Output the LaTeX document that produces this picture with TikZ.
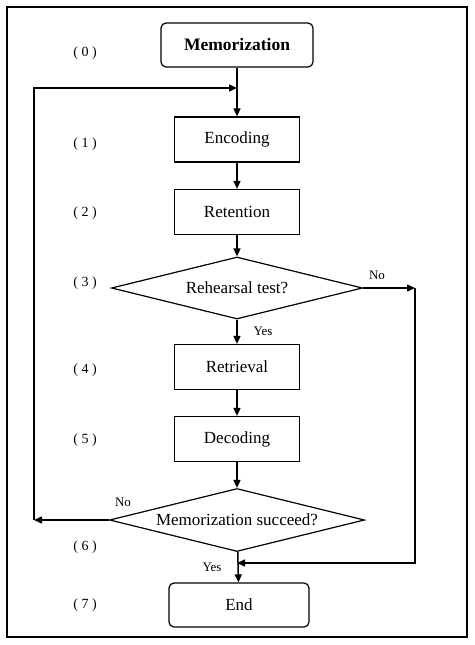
\documentclass[tikz,border=0pt]{standalone}
\usepackage{fontspec}
\setmainfont{Liberation Serif}
\usepackage{tikz}
\usetikzlibrary{shapes.geometric, arrows.meta, positioning, calc}
\tikzstyle{startstop} = [rectangle, rounded corners=5pt, minimum width=152pt, minimum height=44pt, text centered, draw=black, line width=1.2pt, font=\fontsize{17}{20}\selectfont]
\tikzstyle{process} = [rectangle, minimum width=125pt, minimum height=45pt, text centered, draw=black, line width=1.2pt, font=\fontsize{17}{20}\selectfont]
\tikzstyle{decision} = [diamond, aspect=4, inner sep=0pt, text centered, draw=black, line width=1.2pt, font=\fontsize{17}{20}\selectfont]
\tikzstyle{steplabel} = [font=\fontsize{14}{16}\selectfont]
\tikzstyle{answer} = [font=\fontsize{13}{15}\selectfont]
\tikzstyle{arrow} = [line width=1.5pt, -{Triangle[length=8pt, width=7pt]}]

\begin{document}
\begin{tikzpicture}[x=1pt, y=-1pt]
    \useasboundingbox (0,0) rectangle (474,645);
    % Frame
    \draw[line width=2pt] (7,7) rectangle (467,637);

    % Steps
    \node[startstop, font=\fontsize{17.5}{20}\selectfont\bfseries] (mem) at (237,45) {Memorization};
    \node[process] (enc) at (237,139.5) {Encoding};
    \node[process] (ret) at (237,212) {Retention};
    \node[decision, minimum width=251pt, minimum height=62pt] (reh) at (237,288) {Rehearsal test?};
    \node[process] (retr) at (237,367) {Retrieval};
    \node[process] (dec) at (237,439) {Decoding};
    \node[decision, minimum width=255pt, minimum height=63pt] (suc) at (237,520) {Memorization succeed?};
    \node[startstop, minimum width=140pt] (end) at (239,605) {End};

    % Step numbers
    \node[steplabel] (s0) at (85,53) {( 0 )};
    \node[steplabel] (s1) at (85,144) {( 1 )};
    \node[steplabel] (s2) at (85,213) {( 2 )};
    \node[steplabel] (s3) at (85,283) {( 3 )};
    \node[steplabel] (s4) at (85,370) {( 4 )};
    \node[steplabel] (s5) at (85,440) {( 5 )};
    \node[steplabel] (s6) at (85,547) {( 6 )};
    \node[steplabel] (s7) at (85,605) {( 7 )};

    % Junctions
    \coordinate (jtop) at (237,88);
    \coordinate (jbot) at (237,563);
    \coordinate (nr) at (415,288);
    \coordinate (nl) at (34,520);

    % Main flow
    \draw[arrow] (mem) -- (enc);
    \draw[arrow] (enc) -- (ret);
    \draw[arrow] (ret) -- (reh);
    \draw[arrow] (reh) -- (retr);
    \draw[arrow] (retr) -- (dec);
    \draw[arrow] (dec) -- (suc);
    \draw[arrow] (suc) -- (end);

    % Branches
    \draw[arrow] (reh.east) -- (nr);
    \draw[arrow] (nr) |- (jbot);
    \draw[arrow] (suc.west) -- (nl);
    \draw[arrow] (nl) |- (jtop);

    % Answers
    \node[answer] (no1) at (377,275) {No};
    \node[answer] (yes1) at (263,331) {Yes};
    \node[answer] (no2) at (123,502) {No};
    \node[answer] (yes2) at (212,567) {Yes};
\end{tikzpicture}
\end{document}
